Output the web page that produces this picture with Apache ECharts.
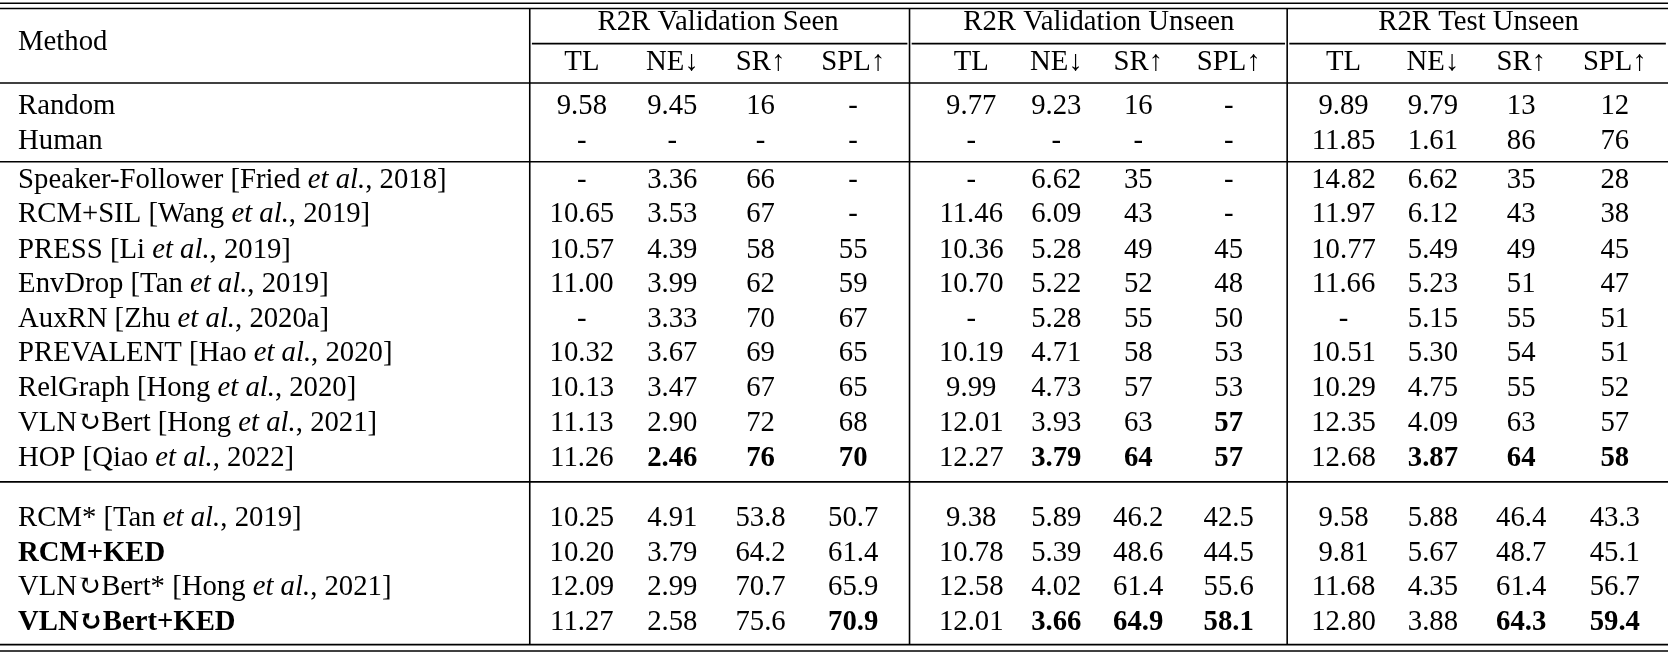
<!DOCTYPE html>
<html lang="en">
<head>
<meta charset="UTF-8">
<title>R2R results</title>
<script src="https://cdn.jsdelivr.net/npm/echarts@6/dist/echarts.min.js"></script>
<style>html,body{margin:0;background:#fff}</style>
</head>
<body>
<div id="main" style="width:1668px;height:658px"></div>
<script>
// table data
var groups = ['R2R Validation Seen', 'R2R Validation Unseen', 'R2R Test Unseen'];
var metrics = ['TL', 'NE↓', 'SR↑', 'SPL↑'];
var methods = [
  'Random', 'Human',
  'Speaker-Follower [Fried {i|et al.}, 2018]', 'RCM+SIL [Wang {i|et al.}, 2019]',
  'PRESS [Li {i|et al.}, 2019]', 'EnvDrop [Tan {i|et al.}, 2019]',
  'AuxRN [Zhu {i|et al.}, 2020a]', 'PREVALENT [Hao {i|et al.}, 2020]',
  'RelGraph [Hong {i|et al.}, 2020]', 'VLN↻Bert [Hong {i|et al.}, 2021]',
  'HOP [Qiao {i|et al.}, 2022]', 'RCM* [Tan {i|et al.}, 2019]', '{b|RCM+KED}',
  'VLN↻Bert* [Hong {i|et al.}, 2021]', '{b|VLN↻Bert+KED}'
];
var valSeen = [
  ['9.58','9.45','16','-'], ['-','-','-','-'], ['-','3.36','66','-'],
  ['10.65','3.53','67','-'], ['10.57','4.39','58','55'], ['11.00','3.99','62','59'],
  ['-','3.33','70','67'], ['10.32','3.67','69','65'], ['10.13','3.47','67','65'],
  ['11.13','2.90','72','68'], ['11.26','2.46','76','70'], ['10.25','4.91','53.8','50.7'],
  ['10.20','3.79','64.2','61.4'], ['12.09','2.99','70.7','65.9'], ['11.27','2.58','75.6','70.9']
];
var valUnseen = [
  ['9.77','9.23','16','-'], ['-','-','-','-'], ['-','6.62','35','-'],
  ['11.46','6.09','43','-'], ['10.36','5.28','49','45'], ['10.70','5.22','52','48'],
  ['-','5.28','55','50'], ['10.19','4.71','58','53'], ['9.99','4.73','57','53'],
  ['12.01','3.93','63','57'], ['12.27','3.79','64','57'], ['9.38','5.89','46.2','42.5'],
  ['10.78','5.39','48.6','44.5'], ['12.58','4.02','61.4','55.6'], ['12.01','3.66','64.9','58.1']
];
var testUnseen = [
  ['9.89','9.79','13','12'], ['11.85','1.61','86','76'], ['14.82','6.62','35','28'],
  ['11.97','6.12','43','38'], ['10.77','5.49','49','45'], ['11.66','5.23','51','47'],
  ['-','5.15','55','51'], ['10.51','5.30','54','51'], ['10.29','4.75','55','52'],
  ['12.35','4.09','63','57'], ['12.68','3.87','64','58'], ['9.58','5.88','46.4','43.3'],
  ['9.81','5.67','48.7','45.1'], ['11.68','4.35','61.4','56.7'], ['12.80','3.88','64.3','59.4']
];
// bold cells: [row, column 0..11]
var boldCells = [
  [10,1],[10,2],[10,3],[10,5],[10,6],[10,7],[10,9],[10,10],[10,11],
  [9,7],[14,3],[14,5],[14,6],[14,7],[14,10],[14,11]
];

// layout (measured on a 1568-wide view, scaled up)
var S = 1668 / 1568;
var colX = [547, 632, 715, 802, 913, 993, 1070, 1155, 1263, 1347, 1430, 1518];
var groupX = [675, 1033, 1390];
var rowY = [100, 133, 170, 202, 235, 267, 300, 332, 365, 398, 431, 487, 520, 552, 585];
var methodX = 17;
var FONT = '"Liberation Serif", "DejaVu Serif", serif';
var FS = 27 * S;

var cells = [];
var blocks = [valSeen, valUnseen, testUnseen];
for (var r = 0; r < methods.length; r++) {
  cells.push([methodX, rowY[r], methods[r], 'left', 0]);
  for (var g = 0; g < 3; g++) {
    for (var m = 0; m < 4; m++) {
      var c = g * 4 + m;
      var bold = boldCells.some(function (b) { return b[0] === r && b[1] === c; });
      cells.push([colX[c], rowY[r], blocks[g][r][m], 'center', bold ? 1 : 0]);
    }
  }
}
// headers
cells.push([methodX, 40, 'Method', 'left', 0]);
for (var g = 0; g < 3; g++) cells.push([groupX[g], 21, groups[g], 'center', 0]);
for (var c = 0; c < 12; c++) cells.push([colX[c], 59, metrics[c % 4], 'center', 0]);

function hline(y, x1, x2) {
  return { type: 'line', shape: { x1: x1 * S, y1: y * S, x2: x2 * S, y2: y * S }, style: { stroke: '#000', lineWidth: 1.6 } };
}
function vline(x, y1, y2) {
  return { type: 'line', shape: { x1: x * S, y1: y1 * S, x2: x * S, y2: y2 * S }, style: { stroke: '#000', lineWidth: 1.6 } };
}
var rules = [
  hline(3, 0, 1568), hline(8, 0, 1568),
  hline(41, 500, 853), hline(41, 857, 1208), hline(41, 1212, 1566),
  hline(78, 0, 1568), hline(152, 0, 1568), hline(453, 0, 1568),
  hline(606, 0, 1568), hline(612, 0, 1568),
  vline(498, 8, 606), vline(855, 8, 606), vline(1210, 8, 606)
];

var chart = echarts.init(document.getElementById('main'));
chart.setOption({
  animation: false,
  grid: { left: 0, right: 0, top: 0, bottom: 0 },
  xAxis: { type: 'value', min: 0, max: 1568, show: false },
  yAxis: { type: 'value', min: 0, max: 658 / S, inverse: true, show: false },
  graphic: rules,
  series: [{
    type: 'custom',
    data: cells,
    renderItem: function (params, api) {
      var d = cells[params.dataIndex];
      var p = api.coord([d[0], d[1]]);
      return {
        type: 'text',
        x: p[0], y: p[1],
        style: {
          text: d[2],
          align: d[3],
          verticalAlign: 'middle',
          fontFamily: FONT,
          fontSize: FS,
          fontWeight: d[4] ? 'bold' : 'normal',
          fill: '#000',
          rich: {
            i: { fontFamily: FONT, fontSize: FS, fontStyle: 'italic' },
            b: { fontFamily: FONT, fontSize: FS, fontWeight: 'bold' }
          }
        }
      };
    }
  }]
});
</script>
</body>
</html>
